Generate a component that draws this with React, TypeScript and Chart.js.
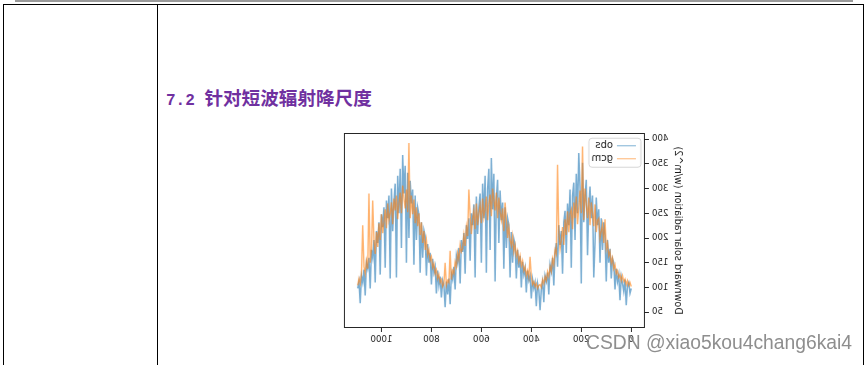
import React, { useEffect, useRef } from "react";
import Chart from "chart.js/auto";

// ---------- data ----------
const STEP_DAYS = 5; // one sample every 5 days, day 0 .. 1095
const SERIES_LABELS = ["obs", "gcm"];

const OBS = [
  98, 88, 110, 104, 64, 116, 92, 108, 122, 74, 126, 112, 138, 96, 150, 158, 118, 178, 150, 196,
  112, 205, 232, 176, 240, 150, 258, 226, 282, 190, 120, 286, 240, 304, 262, 165, 318, 285, 232, 352,
  108, 300, 372, 250, 330, 196, 312, 286, 140, 298, 226, 270, 170, 255, 232, 128, 214, 186, 226, 142,
  190, 170, 104, 160, 132, 146, 86, 130, 112, 124, 70, 112, 96, 54,
  94, 108, 62, 110, 98, 116, 78, 124, 114, 134, 90, 140, 126, 152, 100, 164, 140, 176, 118, 186,
  198, 150, 212, 120, 226, 240, 180, 262, 138, 272, 236, 296, 190, 318, 282, 112, 330, 258, 362, 176,
  340, 300, 130, 326, 240, 310, 150, 290, 262, 208, 284, 120, 268, 226, 250, 154, 240, 198, 226, 128,
  210, 172, 196, 108, 180, 150, 164, 96, 142, 116, 128, 66, 118,
  86, 112, 60, 104, 114, 80, 122, 104, 134, 88, 142, 130, 158, 106, 170, 150, 188, 124, 204, 216,
  160, 232, 130, 248, 262, 196, 286, 146, 298, 270, 316, 200, 332, 150, 346, 290, 368, 180, 340, 250,
  326, 120, 310, 272, 214, 300, 118, 286, 240, 276, 140, 262, 222, 248, 126, 232, 190, 214, 110, 196,
  160, 176, 98, 160, 138, 150, 84, 136, 110, 124, 68, 112, 98,
];

const GCM = [
  102, 110, 104, 114, 106, 117, 112, 124, 114, 126, 120, 134, 128, 146, 138, 160, 150, 172, 164, 190,
  178, 238, 190, 228, 214, 200, 240, 236, 212, 268, 224, 250, 272, 226, 282, 240, 268, 300, 236, 385,
  250, 296, 262, 228, 284, 240, 272, 218, 258, 250, 212, 254, 206, 238, 186, 222, 196, 178, 212, 348,
  168, 176, 146, 158, 132, 142, 122, 132, 114, 122, 108, 116, 100, 106,
  104, 98, 108, 102, 112, 106, 122, 162, 120, 134, 124, 142, 134, 154, 144, 164, 152, 174, 164, 186,
  172, 204, 184, 196, 222, 200, 238, 272, 214, 260, 236, 252, 282, 240, 292, 256, 278, 300, 244, 288,
  270, 236, 284, 258, 242, 280, 230, 266, 250, 226, 270, 218, 256, 238, 208, 246, 298, 204, 222, 184,
  206, 178, 172, 186, 156, 170, 142, 152, 128, 134, 116, 174, 110,
  114, 104, 150, 108, 102, 116, 110, 126, 118, 136, 128, 148, 140, 162, 154, 176, 166,
  196, 176, 214, 190, 232, 206, 250, 224, 262, 230, 278, 248, 286, 240, 392, 252, 298, 260, 280, 306,
  250, 292, 270, 238, 286, 256, 280, 228, 272, 250, 236, 270, 220, 258, 232, 210, 248, 196, 230, 182,
  212, 168, 196,
  276, 176, 150, 290, 138, 154, 128, 142, 226, 128, 108, 118, 104,
];

const X_TICKS = [0, 200, 400, 600, 800, 1000];
const Y_TICKS = [50, 100, 150, 200, 250, 300, 350, 400];
const X_MIN = -55;
const X_MAX = 1150;
const Y_MIN = 18;
const Y_MAX = 412;
const Y_TITLE = "Downward solar radiation (w/m^2)";

const HEADING_NUM = "7.2 ";
const HEADING_TEXT = "针对短波辐射降尺度";
const WATERMARK = "CSDN @xiao5kou4chang6kai4";

const COLORS = ["rgba(31,119,180,0.6)", "rgba(255,127,14,0.6)"];
const WIDTHS = [1.5, 1.4];
const LEGEND_COLORS = ["rgba(31,119,180,0.45)", "rgba(255,127,14,0.45)"];

const CANVAS_W = 370;
const CANVAS_H = 230;

const boxAndLegend = {
  id: "boxAndLegend",
  afterDatasetsDraw(chart: any) {
    const { ctx, chartArea } = chart;
    const { left, top, right, bottom } = chartArea;
    ctx.save();
    ctx.strokeStyle = "#262626";
    ctx.lineWidth = 1;
    ctx.strokeRect(Math.round(left) + 0.5, Math.round(top) + 0.5, Math.round(right - left) - 1, Math.round(bottom - top) - 1);

    // legend (top-left in the un-mirrored figure)
    const bx = left + 4;
    const by = top + 5;
    const bw = 52;
    const bh = 29;
    const r = 3;
    ctx.beginPath();
    ctx.moveTo(bx + r, by);
    ctx.lineTo(bx + bw - r, by);
    ctx.quadraticCurveTo(bx + bw, by, bx + bw, by + r);
    ctx.lineTo(bx + bw, by + bh - r);
    ctx.quadraticCurveTo(bx + bw, by + bh, bx + bw - r, by + bh);
    ctx.lineTo(bx + r, by + bh);
    ctx.quadraticCurveTo(bx, by + bh, bx, by + bh - r);
    ctx.lineTo(bx, by + r);
    ctx.quadraticCurveTo(bx, by, bx + r, by);
    ctx.closePath();
    ctx.fillStyle = "rgba(255,255,255,0.85)";
    ctx.fill();
    ctx.strokeStyle = "#d6d6d6";
    ctx.stroke();

    ctx.font = '10px "DejaVu Sans"';
    ctx.textBaseline = "middle";
    ctx.textAlign = "left";
    chart.data.datasets.forEach((ds: any, i: number) => {
      const y = by + 7.5 + i * 13;
      ctx.strokeStyle = LEGEND_COLORS[i];
      ctx.lineWidth = 1.3;
      ctx.beginPath();
      ctx.moveTo(bx + 5, y);
      ctx.lineTo(bx + 24, y);
      ctx.stroke();
      ctx.fillStyle = "#222";
      ctx.fillText(ds.label, bx + 28, y);
    });
    ctx.restore();
  },
};

function SolarChart() {
  const ref = useRef<HTMLCanvasElement | null>(null);
  useEffect(() => {
    if (!ref.current) return;
    const seriesData = [OBS, GCM].map((arr) => arr.map((v, i) => ({ x: i * STEP_DAYS, y: v })));
    const chart = new Chart(ref.current, {
      type: "line",
      data: {
        datasets: SERIES_LABELS.map((label, i) => ({
          label,
          data: seriesData[i],
          borderColor: COLORS[i],
          backgroundColor: COLORS[i],
          borderWidth: WIDTHS[i],
          pointRadius: 0,
          tension: 0,
          fill: false,
          order: i === 0 ? 1 : 0,
        })),
      },
      options: {
        responsive: false,
        animation: false,
        devicePixelRatio: 1,
        layout: { padding: { left: 0, right: 14, top: 8, bottom: 0 } },
        plugins: { legend: { display: false }, tooltip: { enabled: false } },
        scales: {
          x: {
            type: "linear",
            min: X_MIN,
            max: X_MAX,
            afterBuildTicks: (s: any) => {
              s.ticks = X_TICKS.map((v) => ({ value: v }));
            },
            afterFit: (s: any) => {
              s.height = 27;
            },
            grid: { display: true, drawOnChartArea: false, drawTicks: true, tickLength: 4, color: "#262626" },
            border: { display: false },
            ticks: {
              autoSkip: false,
              maxRotation: 0,
              padding: 3,
              color: "#1a1a1a",
              font: { family: "DejaVu Sans", size: 8.7 },
              callback: (v: any) => String(v),
            },
          },
          y: {
            type: "linear",
            min: Y_MIN,
            max: Y_MAX,
            afterBuildTicks: (s: any) => {
              s.ticks = Y_TICKS.map((v) => ({ value: v }));
            },
            afterFit: (s: any) => {
              s.width = 55;
            },
            grid: { display: true, drawOnChartArea: false, drawTicks: true, tickLength: 4, color: "#262626" },
            border: { display: false },
            ticks: {
              autoSkip: false,
              padding: 3,
              color: "#1a1a1a",
              font: { family: "DejaVu Sans", size: 8.7 },
              callback: (v: any) => String(v),
            },
            title: {
              display: true,
              text: Y_TITLE,
              color: "#1a1a1a",
              font: { family: "DejaVu Sans", size: 9.6 },
              padding: { top: 17, bottom: 0 },
            },
          },
        },
      },
      plugins: [boxAndLegend],
    });
    return () => chart.destroy();
  }, []);
  return <canvas ref={ref} width={CANVAS_W} height={CANVAS_H} style={{ width: CANVAS_W, height: CANVAS_H, display: "block" }} />;
}

export default function App() {
  const line = (style: React.CSSProperties) => <div style={{ position: "absolute", background: "#000", ...style }} />;
  return (
    <div style={{ position: "fixed", left: 0, top: 0, width: 867, height: 365, background: "#fff", overflow: "hidden" }}>
      <div style={{ position: "absolute", left: 15, top: 0, width: 838, height: 2, background: "#9a9a9a" }} />
      {line({ left: 3, top: 4, width: 861, height: 1 })}
      {line({ left: 3, top: 4, width: 1, height: 361 })}
      {line({ left: 157, top: 4, width: 1, height: 361 })}
      {line({ left: 863, top: 4, width: 1, height: 361 })}
      <div
        style={{
          position: "absolute",
          left: 166,
          top: 86,
          color: "#7030a0",
          fontWeight: 700,
          whiteSpace: "nowrap",
          lineHeight: "22px",
        }}
      >
        <span style={{ fontFamily: '"Liberation Mono", monospace', fontSize: 16 }}>{HEADING_NUM}</span>
        <span style={{ fontFamily: '"Noto Sans CJK SC", sans-serif', fontSize: 18.6 }}>{HEADING_TEXT}</span>
      </div>
      <div style={{ position: "absolute", left: 330, top: 125, width: CANVAS_W, height: CANVAS_H, transform: "scaleX(-1)" }}>
        <SolarChart />
      </div>
      <div
        style={{
          position: "absolute",
          left: 586,
          top: 332,
          fontFamily: '"Liberation Sans", sans-serif',
          fontSize: 19.3,
          color: "rgba(130,130,130,0.9)",
          whiteSpace: "nowrap",
          lineHeight: "22px",
        }}
      >
        {WATERMARK}
      </div>
    </div>
  );
}
